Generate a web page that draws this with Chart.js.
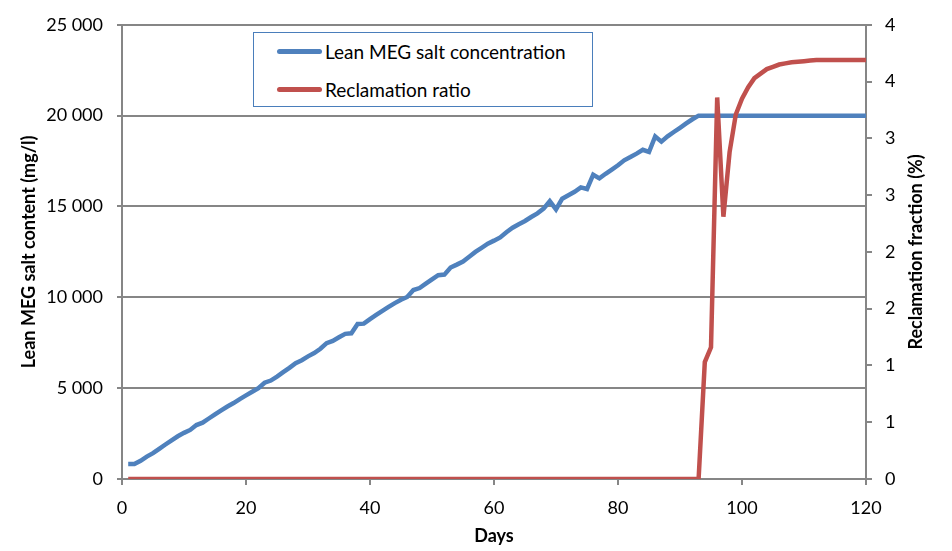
<!DOCTYPE html>
<html>
<head>
<meta charset="utf-8">
<script src="https://cdn.jsdelivr.net/npm/chart.js@4/dist/chart.umd.min.js"></script>
<style>
  body { margin: 0; background: #fff; }
  #wrap { position: relative; width: 952px; height: 551px; }
  #legend {
    position: absolute; left: 253px; top: 32px; width: 338px; height: 73px;
    border: 1.5px solid #4a7ebb; background: #fff;
    font-family: Lato, sans-serif; font-size: 19px; color: #000;
  }
  #legend .item { position: absolute; left: 23px; height: 22px; display: flex; align-items: center; }
  #legend .swatch { width: 45px; height: 5px; border-radius: 3px; margin-right: 3px; }
</style>
</head>
<body>
<div id="wrap">
  <canvas id="lineChart"></canvas>
  <div id="legend"></div>
</div>
<script>
const days = [
  1, 2, 3, 4, 5, 6, 7, 8, 9, 10, 11, 12, 13, 14, 15, 16, 17, 18, 19, 20,
  21, 22, 23, 24, 25, 26, 27, 28, 29, 30, 31, 32, 33, 34, 35, 36, 37, 38, 39, 40,
  41, 42, 43, 44, 45, 46, 47, 48, 49, 50, 51, 52, 53, 54, 55, 56, 57, 58, 59, 60,
  61, 62, 63, 64, 65, 66, 67, 68, 69, 70, 71, 72, 73, 74, 75, 76, 77, 78, 79, 80,
  81, 82, 83, 84, 85, 86, 87, 88, 89, 90, 91, 92, 93, 94, 95, 96, 97, 98, 99, 100,
  101, 102, 103, 104, 105, 106, 107, 108, 109, 110, 111, 112, 113, 114, 115, 116, 117, 118, 119, 120
];

// mg/l
const saltConc = [
  820, 820, 1000, 1230, 1420, 1660, 1900, 2130, 2350, 2540,
  2700, 2970, 3100, 3330, 3560, 3780, 3990, 4180, 4400, 4600,
  4800, 5000, 5300, 5420, 5640, 5880, 6120, 6380, 6540, 6750,
  6930, 7170, 7480, 7600, 7800, 7990, 8020, 8530, 8550, 8800,
  9030, 9250, 9470, 9680, 9870, 10020, 10400, 10510, 10750, 10990,
  11220, 11250, 11640, 11800, 11970, 12230, 12500, 12720, 12950, 13120,
  13300, 13580, 13830, 14020, 14200, 14420, 14620, 14880, 15290, 14840,
  15430, 15620, 15810, 16050, 15960, 16750, 16550, 16800, 17030, 17270,
  17540, 17720, 17910, 18120, 18000, 18850, 18570, 18860, 19100, 19330,
  19570, 19800, 20000, 20000, 20000, 20000, 20000, 20000, 20000, 20000,
  20000, 20000, 20000, 20000, 20000, 20000, 20000, 20000, 20000, 20000,
  20000, 20000, 20000, 20000, 20000, 20000, 20000, 20000, 20000, 20000
];

// %
const reclaim = [
  0, 0, 0, 0, 0, 0, 0, 0, 0, 0,
  0, 0, 0, 0, 0, 0, 0, 0, 0, 0,
  0, 0, 0, 0, 0, 0, 0, 0, 0, 0,
  0, 0, 0, 0, 0, 0, 0, 0, 0, 0,
  0, 0, 0, 0, 0, 0, 0, 0, 0, 0,
  0, 0, 0, 0, 0, 0, 0, 0, 0, 0,
  0, 0, 0, 0, 0, 0, 0, 0, 0, 0,
  0, 0, 0, 0, 0, 0, 0, 0, 0, 0,
  0, 0, 0, 0, 0, 0, 0, 0, 0, 0,
  0, 0, 0, 1.03, 1.16, 3.36, 2.31, 2.88, 3.21, 3.35,
  3.45, 3.53, 3.57, 3.61, 3.63, 3.65, 3.66, 3.67, 3.675, 3.68,
  3.685, 3.69, 3.69, 3.69, 3.69, 3.69, 3.69, 3.69, 3.69, 3.69
];

const xTicks = [0, 20, 40, 60, 80, 100, 120];

const gridGrey = "#868686";
const tickFont = { family: "Lato", size: 18 };
const titleFont = { family: "Lato", size: 18, weight: "bold" };

function spaced(v) {
  return v.toString().replace(/\B(?=(\d{3})+(?!\d))/g, " ");
}

// right-hand title reads bottom to top, like the left one
const rightTitle = {
  id: "rightTitle",
  afterDraw(chart) {
    const c = chart.ctx;
    const area = chart.chartArea;
    c.save();
    c.translate(916, (area.top + area.bottom) / 2);
    c.rotate(-Math.PI / 2);
    c.font = "bold 18px Lato";
    c.fillStyle = "#000";
    c.textAlign = "center";
    c.textBaseline = "middle";
    c.fillText("Reclamation fraction (%)", 0, 0);
    c.restore();
  }
};

let ctx = document.getElementById("lineChart").getContext("2d");
let chart = new Chart(ctx, {
  type: "line",
  data: {
    datasets: [
      {
        label: "Lean MEG salt concentration",
        data: days.map((d, i) => ({ x: d, y: saltConc[i] })),
        borderColor: "#4f81bd",
        backgroundColor: "#4f81bd",
        borderWidth: 4.5,
        pointRadius: 0,
        tension: 0,
        yAxisID: "y",
        order: 1
      },
      {
        label: "Reclamation ratio",
        data: days.map((d, i) => ({ x: d, y: reclaim[i] })),
        borderColor: "#c0504d",
        backgroundColor: "#c0504d",
        borderWidth: 4.5,
        pointRadius: 0,
        tension: 0,
        yAxisID: "y1",
        order: 0
      }
    ]
  },
  options: {
    responsive: true,
    maintainAspectRatio: false,
    animation: false,
    layout: { padding: { top: 22, left: 0, right: 0, bottom: 0 } },
    plugins: { legend: { display: false }, tooltip: { enabled: false } },
    scales: {
      x: {
        type: "linear",
        min: 0,
        max: 120,
        afterBuildTicks: (s) => { s.ticks = xTicks.map(v => ({ value: v })); },
        afterFit: (s) => { s.height = 72; },
        ticks: { font: tickFont, color: "#000", padding: 12, maxRotation: 0 },
        grid: { drawOnChartArea: false, drawTicks: true, tickLength: 6, color: gridGrey, lineWidth: 2 },
        border: { color: gridGrey, width: 2 },
        title: { display: true, text: "Days", font: titleFont, color: "#000", padding: { top: 0, bottom: 4 } }
      },
      y: {
        position: "left",
        min: 0,
        max: 25000,
        afterFit: (s) => { s.width = 122; },
        ticks: { stepSize: 5000, font: tickFont, color: "#000", padding: 14, callback: spaced },
        grid: { color: gridGrey, lineWidth: 2, tickLength: 5 },
        border: { color: gridGrey, width: 2 },
        title: { display: true, text: "Lean MEG salt content (mg/l)", font: titleFont, color: "#000", padding: { top: 18, bottom: 0 } }
      },
      y1: {
        position: "right",
        min: 0,
        max: 4,
        afterFit: (s) => { s.width = 86; },
        ticks: { stepSize: 0.5, font: tickFont, color: "#000", padding: 13, callback: (v) => Math.round(v) },
        grid: { drawOnChartArea: false, color: gridGrey, lineWidth: 2, tickLength: 6 },
        border: { color: gridGrey, width: 2 }
      }
    }
  },
  plugins: [rightTitle]
});

// legend box inside the plot
const legend = document.getElementById("legend");
chart.data.datasets.forEach((ds, i) => {
  const item = document.createElement("div");
  item.className = "item";
  item.style.top = (7 + i * 38) + "px";
  item.innerHTML = '<span class="swatch" style="background:' + ds.borderColor + '"></span>' + ds.label;
  legend.appendChild(item);
});
</script>
</body>
</html>
